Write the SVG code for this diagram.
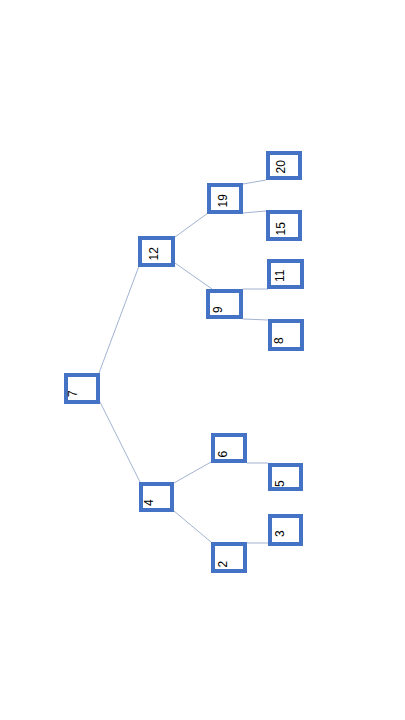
<svg xmlns="http://www.w3.org/2000/svg" width="405" height="720" viewBox="0 0 405 720">
<style>
.box{fill:#FFFFFF;stroke:#4472C4;stroke-width:4}
.lbl{font-family:"Liberation Sans",Arial,sans-serif;font-size:12px;fill:#000000}
.edge{stroke:#A3B3D3;stroke-width:1;fill:none}
</style>
<rect x="0" y="0" width="405" height="720" fill="#FFFFFF"/>
<g id="connectors">
<line class="edge" x1="99" y1="373" x2="139" y2="266"/>
<line class="edge" x1="100" y1="402" x2="140" y2="482"/>
<line class="edge" x1="175" y1="237" x2="208" y2="213"/>
<line class="edge" x1="175" y1="263" x2="212" y2="289"/>
<line class="edge" x1="243" y1="184" x2="266" y2="180"/>
<line class="edge" x1="243" y1="213" x2="266" y2="211"/>
<line class="edge" x1="243" y1="289" x2="268" y2="289"/>
<line class="edge" x1="243" y1="319" x2="268" y2="320"/>
<line class="edge" x1="174" y1="483" x2="211" y2="462"/>
<line class="edge" x1="174" y1="511" x2="211" y2="542"/>
<line class="edge" x1="247" y1="463" x2="268" y2="463"/>
<line class="edge" x1="247" y1="543" x2="268" y2="543"/>
</g>
<g id="n7"><rect class="box" x="66" y="375" width="32" height="27"/><text class="lbl" transform="translate(77,397) rotate(-90)">7</text></g>
<g id="n12"><rect class="box" x="140" y="238" width="33" height="27"/><text class="lbl" transform="translate(158,260.5) rotate(-90)">12</text></g>
<g id="n4"><rect class="box" x="141" y="484" width="31" height="26"/><text class="lbl" transform="translate(152.5,506) rotate(-90)">4</text></g>
<g id="n19"><rect class="box" x="209" y="185" width="32" height="27"/><text class="lbl" transform="translate(226.5,207.5) rotate(-90)">19</text></g>
<g id="n9"><rect class="box" x="208" y="291" width="33" height="26"/><text class="lbl" transform="translate(222,313) rotate(-90)">9</text></g>
<g id="n20"><rect class="box" x="268" y="153" width="32" height="25"/><text class="lbl" transform="translate(284.5,173.5) rotate(-90)">20</text></g>
<g id="n15"><rect class="box" x="268" y="212" width="32" height="27"/><text class="lbl" transform="translate(284.5,235.5) rotate(-90)">15</text></g>
<g id="n11"><rect class="box" x="269" y="261" width="33" height="26"/><text class="lbl" transform="translate(283.5,282) rotate(-90)">11</text></g>
<g id="n8"><rect class="box" x="270" y="321" width="32" height="28"/><text class="lbl" transform="translate(282.5,344) rotate(-90)">8</text></g>
<g id="n6"><rect class="box" x="213" y="435" width="32" height="26"/><text class="lbl" transform="translate(226.5,457.5) rotate(-90)">6</text></g>
<g id="n5"><rect class="box" x="270" y="465" width="31" height="24"/><text class="lbl" transform="translate(284,487) rotate(-90)">5</text></g>
<g id="n3"><rect class="box" x="270" y="516" width="31" height="28"/><text class="lbl" transform="translate(284,537) rotate(-90)">3</text></g>
<g id="n2"><rect class="box" x="213" y="544" width="32" height="27"/><text class="lbl" transform="translate(226.5,567.5) rotate(-90)">2</text></g>
</svg>
